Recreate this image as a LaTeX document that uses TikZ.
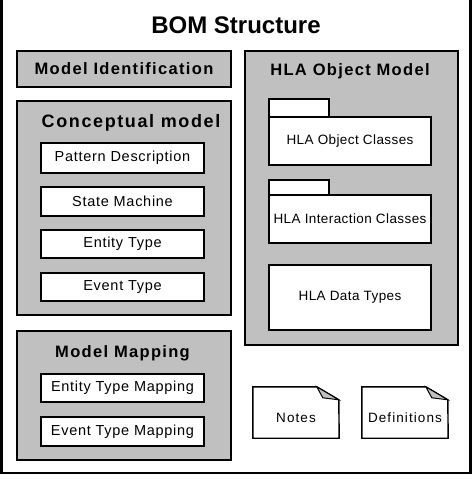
\documentclass[tikz,border=0pt]{standalone}
\usepackage{fontspec}
\setmainfont{Liberation Sans}
\newfontfamily\hdrfont[LetterSpace=8]{Liberation Sans}
\newfontfamily\cmfont[LetterSpace=9]{Liberation Sans}
\newfontfamily\txtfont[LetterSpace=5]{Liberation Sans}
\newfontfamily\notefont[LetterSpace=8]{Liberation Sans}
\newfontfamily\hlafont[LetterSpace=3]{Liberation Sans}
\definecolor{boxgray}{HTML}{C0C0C0}
\begin{document}
\begin{tikzpicture}[x=1pt,y=-1pt,
  graybox/.style={draw=black, line width=1.4pt, fill=boxgray, inner sep=0pt},
  whitebox/.style={draw=black, line width=1.6pt, fill=white, inner sep=0pt,
    minimum width=163pt, font=\txtfont\fontsize{14.5}{16}\selectfont},
  hlabox/.style={draw=black, line width=1.6pt, fill=white, inner sep=0pt,
    minimum width=162pt, font=\hlafont\fontsize{13.5}{15}\selectfont},
  hdr/.style={inner sep=0pt, font=\hdrfont\bfseries\fontsize{16.5}{18}\selectfont},
  notebox/.style={inner sep=0pt, minimum width=86pt, minimum height=51pt},
  notetext/.style={inner sep=0pt, font=\notefont\fontsize{13.5}{15}\selectfont},
  noteline/.style={draw=black, line width=1.4pt, line join=miter, fill=white},
  flap/.style={draw=black, line width=1pt, fill=boxgray}
]
\useasboundingbox (0,0) rectangle (474,496);
\fill[white] (0,0) rectangle (474,496);
\draw[line width=2.5pt] (1.5,0) -- (1.5,473) -- (470.5,473) -- (470.5,0);

\node[inner sep=0pt, font=\bfseries\fontsize{24}{28}\selectfont] (title) at (236,25) {BOM Structure};

% Model Identification
\node[graybox, hdr, minimum width=214pt, minimum height=36pt] (mi) at (124,69) {Model Identification};

% Conceptual model
\node[graybox, minimum width=214pt, minimum height=214pt] (cm) at (124,208) {};
\node[hdr, font=\cmfont\bfseries\fontsize{18}{20}\selectfont] (cmt) at (131,123) {Conceptual model};
\node[whitebox, minimum height=30pt] (pd) at (122.5,158) {Pattern Description};
\node[whitebox, minimum height=29pt] (sm) at (122.5,201.5) {State Machine};
\node[whitebox, minimum height=28pt] (et) at (122.5,244) {Entity Type};
\node[whitebox, minimum height=28pt] (evt) at (122.5,287) {Event Type};

% Model Mapping
\node[graybox, minimum width=214pt, minimum height=129pt] (mm) at (124,395.5) {};
\node[hdr] (mmt) at (122.5,353) {Model Mapping};
\node[whitebox, minimum height=28pt] (etm) at (122.5,388) {Entity Type Mapping};
\node[whitebox, minimum height=29pt] (evm) at (122.5,431.5) {Event Type Mapping};

% HLA Object Model
\node[graybox, minimum width=213pt, minimum height=294pt] (hla) at (351.5,198) {};
\node[hdr] (hlat) at (350,71) {HLA Object Model};
\node[hlabox, minimum width=60pt, minimum height=18pt] (octab) at (299,108) {};
\node[hlabox, minimum height=48pt] (oc) at (350,141) {HLA Object Classes};
\node[hlabox, minimum width=60pt, minimum height=15pt] (ictab) at (299,187.5) {};
\node[hlabox, minimum height=48pt] (ic) at (350,219) {HLA Interaction Classes};
\node[hlabox, minimum height=65pt] (dt) at (350,297.5) {HLA Data Types};

% Notes
\node[notebox] (notes) at (296,412.5) {};
\draw[noteline] (notes.north west) -- ++(64,0) -- ++(22,13) -- (notes.south east) -- (notes.south west) -- cycle;
\draw[flap] ([xshift=64pt]notes.north west) -- ++(6,11) -- ++(16,2) -- cycle;
\node[notetext] (notest) at ([yshift=-5pt]notes.center) {Notes};

% Definitions
\node[notebox] (defs) at (405,412.5) {};
\draw[noteline] (defs.north west) -- ++(64,0) -- ++(22,13) -- (defs.south east) -- (defs.south west) -- cycle;
\draw[flap] ([xshift=64pt]defs.north west) -- ++(6,11) -- ++(16,2) -- cycle;
\node[notetext] (defst) at ([yshift=-5pt]defs.center) {Definitions};
\end{tikzpicture}
\end{document}
